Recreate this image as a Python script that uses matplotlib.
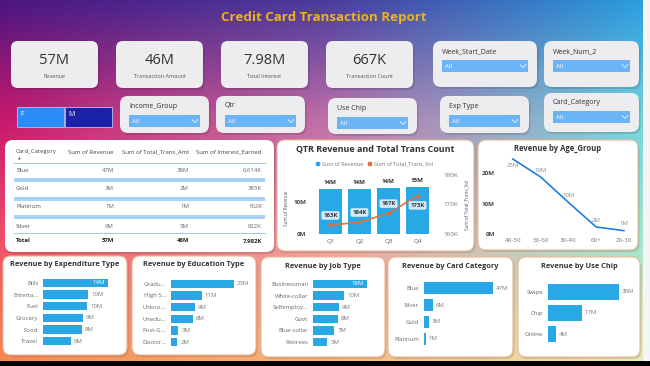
import numpy as np
import matplotlib.pyplot as plt
from matplotlib.patches import FancyBboxPatch, Rectangle

plt.rcParams['font.family'] = ['Open Sans', 'DejaVu Sans']

W, H = 650, 366
BLUE = '#29a8e6'
ORANGE = '#e0703c'

# ---- data ----
kpi_values = ['57M', '46M', '7.98M', '667K']
kpi_labels = ['Revenue', 'Transaction Amount', 'Total Interest', 'Transaction Count']

table_cats = ['Blue', 'Gold', 'Platinum', 'Silver']
table_rev = [46.6, 3.1, 1.1, 5.9]           # M
table_amt = [37.8, 2.4, 0.9, 5.2]           # M
table_int = [6613.6, 384.9, 161.8, 821.6]   # K

quarters = ['Q1', 'Q2', 'Q3', 'Q4']
qtr_revenue = [14.0, 14.1, 14.3, 14.6]      # M
qtr_trans_vol = [163, 164, 167, 173]        # K

age_groups = ['40-50', '50-60', '30-40', '60+', '20-30']
age_revenue = [24.6, 18.7, 10.4, 2.3, 1.1]

exp_labels = ['Bills', 'Enterta...', 'Fuel', 'Grocery', 'Food', 'Travel']
exp_revenue = [14.0, 9.7, 9.5, 8.6, 8.3, 6.0]

edu_labels = ['Gradu...', 'High S...', 'Unkno...', 'Unedu...', 'Post-G...', 'Doctor...']
edu_revenue = [23.0, 11.3, 8.7, 8.1, 2.7, 2.3]

job_labels = ['Businessman', 'White-collar', 'Selfemploy...', 'Govt', 'Blue-collar', 'Retirees']
job_revenue = [18.0, 10.4, 8.7, 8.3, 7.1, 4.7]

card_labels = ['Blue', 'Silver', 'Gold', 'Platinum']
card_revenue = [46.6, 5.9, 3.1, 1.1]

chip_labels = ['Swipe', 'Chip', 'Online']
chip_revenue = [35.8, 17.2, 4.0]

# ---- figure + gradient background ----
fig = plt.figure(figsize=(W / 100, H / 100), dpi=100)
bg = fig.add_axes([0, 0, 1, 1])

grid_y = [0, 120, 240, 366]
grid_x = [0, 325, 650]
grid_cols = [['#4a1680', '#4a3c9c', '#2aa0e0'],
             ['#c8186c', '#c070a8', '#70d8e0'],
             ['#f05068', '#f0a0a0', '#a0e8d0'],
             ['#f58c50', '#f8b878', '#f0ecb8']]
ctrl = np.array([[[int(c[i:i + 2], 16) / 255 for i in (1, 3, 5)] for c in row] for row in grid_cols])
ys = np.arange(H)
xs = np.arange(W)
tmp = np.stack([np.stack([np.interp(ys, grid_y, ctrl[:, j, k]) for k in range(3)], -1)
                for j in range(3)], 1)          # H x 3 x 3
grad = np.stack([np.stack([np.interp(xs, grid_x, tmp[r, :, k]) for k in range(3)], -1)
                 for r in range(H)], 0)
bg.imshow(grad, extent=(0, W, H, 0), aspect='auto', zorder=0)
bg.set_xlim(0, W)
bg.set_ylim(H, 0)
bg.axis('off')
bg.add_patch(Rectangle((0, 361), W, 5, fc='black', zorder=5))
bg.add_patch(Rectangle((643, 0), 7, 361, fc='#f4f6f6', zorder=5))


def card(l, t, r, b, fc='white', ec='none', rad=6, shadow=True):
    if shadow:
        bg.add_patch(FancyBboxPatch((l + 1.5, t + 2), r - l, b - t,
                                    boxstyle=f'round,pad=0,rounding_size={rad}',
                                    fc='black', ec='none', alpha=0.12, zorder=1))
    bg.add_patch(FancyBboxPatch((l, t), r - l, b - t,
                                boxstyle=f'round,pad=0,rounding_size={rad}',
                                fc=fc, ec=ec, lw=0.8, zorder=2))


def px_ax(l, t, r, b):
    ax = fig.add_axes([l / W, 1 - b / H, (r - l) / W, (b - t) / H])
    ax.patch.set_alpha(0)
    for s in ax.spines.values():
        s.set_visible(False)
    return ax


# title
bg.text(324, 18, 'Credit Card Transaction Report', ha='center', va='center',
        fontsize=9.6, fontweight='bold', color='#ecb416', zorder=3)

# KPI cards
kpi_x = [(11, 98), (116, 203), (221, 308), (326, 413)]
for (l, r), v, lab in zip(kpi_x, kpi_values, kpi_labels):
    card(l, 41, r, 88, fc='#ededf0', rad=7)
    bg.text((l + r) / 2, 61, v, ha='center', va='center', fontsize=10.5, color='#333333', zorder=3)
    bg.text((l + r) / 2, 76, lab, ha='center', va='center', fontsize=4, color='#555555', zorder=3)

# slicers
slicers = [('Week_Start_Date', 433, 41, 537, 87, 52, 60),
           ('Week_Num_2', 544, 41, 639, 87, 52, 60),
           ('Income_Group', 120, 96, 209, 133, 107, 115),
           ('Qtr', 216, 96, 305, 133, 106, 115),
           ('Use Chip', 328, 98, 417, 134, 109, 117),
           ('Exp Type', 440, 96, 529, 133, 107, 115),
           ('Card_Category', 544, 93, 639, 132, 103, 111)]
for name, l, t, r, b, ly, dy in slicers:
    card(l, t, r, b, fc='#ededf0', rad=8)
    bg.text(l + 9, ly, name, ha='left', va='center', fontsize=5, color='#333333', zorder=3)
    bg.add_patch(Rectangle((l + 9, dy), r - l - 18, 12, fc='#6cb4f8', ec='none', zorder=3))
    bg.text(l + 12, dy + 6.5, 'All', ha='left', va='center', fontsize=4.5, color='white', zorder=4)
    cx = r - 14
    bg.plot([cx - 3, cx, cx + 3], [dy + 4.5, dy + 7.5, dy + 4.5], color='#e8f4ff', lw=0.6, zorder=4)

# gender buttons
bg.add_patch(Rectangle((17, 107), 47, 20, fc='#2a8cf8', ec='#b0c0f0', lw=0.6, zorder=3))
bg.add_patch(Rectangle((65, 107), 47, 20, fc='#1c22a8', ec='#b0c0f0', lw=0.6, zorder=3))
bg.text(20, 115, 'F', ha='left', va='center', fontsize=5, color='white', zorder=4)
bg.text(68, 115, 'M', ha='left', va='center', fontsize=5, color='white', zorder=4)

# ---- table ----
card(5, 140, 274, 252, rad=8)
col_x = [114, 189, 262]
headers = ['Sum of Revenue', 'Sum of Total_Trans_Amt', 'Sum of Interest_Earned']
TFS = 4.3
bg.text(16, 152, 'Card_Category', ha='left', va='center', fontsize=TFS, color='#444444', zorder=3)
bg.text(19, 158.5, '▲', ha='center', va='center', fontsize=2.4, color='#444444', zorder=3)
for x, h in zip(col_x, headers):
    bg.text(x, 152, h, ha='right', va='center', fontsize=TFS, color='#444444', zorder=3)
bg.plot([14, 265], [163, 163], color='#9cc8f0', lw=0.7, zorder=3)
row_y = [170, 189, 207, 226]
for i, (cat, rv, am, it) in enumerate(zip(table_cats, table_rev, table_amt, table_int)):
    y = row_y[i]
    bg.text(16, y, cat, ha='left', va='center', fontsize=TFS, color='#555555', zorder=3)
    vals = [f'{rv:.0f}M', f'{am:.0f}M', f'{it:,.0f}K']
    for x, s in zip(col_x, vals):
        bg.text(x, y, s, ha='right', va='center', fontsize=TFS, color='#666666', zorder=3)
    if i < len(table_cats) - 1:
        bg.add_patch(Rectangle((14, y + 8), 251, 3.5, fc='#a8d2f8', ec='none', zorder=3))
bg.plot([14, 265], [233, 233], color='#9cc8f0', lw=0.7, zorder=3)
tot = [f'{sum(table_rev):.0f}M', f'{sum(table_amt):.0f}M', f'{sum(table_int):,.0f}K']
bg.text(16, 241, 'Total', ha='left', va='center', fontsize=TFS, fontweight='bold', color='#222222', zorder=3)
for x, s in zip(col_x, tot):
    bg.text(x, 241, s, ha='right', va='center', fontsize=TFS, fontweight='bold', color='#222222', zorder=3)

# ---- QTR combo chart ----
card(277, 140, 474, 251, ec='#e8b898', rad=8)
bg.text(375, 149, 'QTR Revenue and Total Trans Count', ha='center', va='center',
        fontsize=6.5, fontweight='bold', color='#333333', zorder=3)
bg.scatter([318, 370], [164, 164], s=6, c=[BLUE, ORANGE], zorder=3)
bg.text(322, 164, 'Sum of Revenue', ha='left', va='center', fontsize=4, color='#777777', zorder=3)
bg.text(374, 164, 'Sum of Total_Trans_Vol', ha='left', va='center', fontsize=4, color='#777777', zorder=3)
bg.text(286, 208, 'Sum of Revenue', rotation=90, ha='center', va='center', fontsize=3.3, color='#555555', zorder=3)
bg.text(467, 205, 'Sum of Total_Trans_Vol', rotation=90, ha='center', va='center', fontsize=3.3, color='#555555', zorder=3)

ax = px_ax(313, 175, 435, 234)
xq = np.arange(len(quarters))
ax.bar(xq, qtr_revenue, width=0.79, color=BLUE)
ax.set_xlim(-0.6, 3.6)
ax.set_ylim(0, 18.4)
ax.set_yticks([0, 10], ['0M', '10M'])
ax.set_xticks(xq, quarters)
ax.tick_params(length=0, labelsize=4.5, colors='#666666', pad=3.5)
ax.tick_params(axis='y', pad=5)
for lab in ax.get_yticklabels():
    lab.set_fontweight('bold')
    lab.set_color('#444444')
for x, v in zip(xq, qtr_revenue):
    ax.annotate(f'{v:.0f}M', (x, v), xytext=(0, 3), textcoords='offset points',
                ha='center', va='bottom', fontsize=4.5, fontweight='bold', color='#333333')
ax2 = ax.twinx()
ax2.patch.set_alpha(0)
for s in ax2.spines.values():
    s.set_visible(False)
ax2.plot(xq, qtr_trans_vol, color=ORANGE, lw=1.2, marker='o', ms=2)
ax2.set_ylim(160, 180)
ax2.set_yticks([160, 170, 180], ['160K', '170K', '180K'])
ax2.tick_params(length=0, labelsize=4.5, colors='#777777', pad=6)
label_side = [1, 1, 1, -1]
for x, v, sd in zip(xq, qtr_trans_vol, label_side):
    ax2.annotate(f'{v}K', (x, v), xytext=(0, 7 * sd), textcoords='offset points',
                 ha='center', va='center', fontsize=4.3, fontweight='bold', color='#333333',
                 bbox=dict(boxstyle='round,pad=0.3', fc='#d2e9f8', ec='none'))

# ---- age line chart ----
card(478, 140, 638, 250, ec='#e8b898', rad=8)
bg.text(558, 148, 'Revenue by Age_Group', ha='center', va='center',
        fontsize=5.5, fontweight='bold', color='#333333', zorder=3)
ax = px_ax(499, 156, 635, 234)
xa = np.arange(len(age_groups))
ax.plot(xa, age_revenue, color='#1e7fe0', lw=1.2)
ax.set_xlim(-0.5, 4.4)
ax.set_ylim(0, 25.6)
ax.set_xticks(xa, age_groups)
ax.set_yticks([0, 10, 20], ['0M', '10M', '20M'])
ax.tick_params(length=0, labelsize=4.5, colors='#777777', pad=3)
for lab in ax.get_yticklabels():
    lab.set_fontweight('bold')
    lab.set_color('#444444')
age_side = [-1, 1, 1, 1, 1]
for x, v, sd in zip(xa, age_revenue, age_side):
    ax.annotate(f'{v:.0f}M', (x, v), xytext=(0, 5 * sd), textcoords='offset points',
                ha='center', va='center', fontsize=4.3, color='#888888')


# ---- bottom bar charts ----
def hbar_card(l, t, r, b, title, ax_box, labels, vals, ppm, bar_h):
    card(l, t, r, b, ec='#e8b898', rad=8)
    bg.text((l + r) / 2, t + 9, title, ha='center', va='center',
            fontsize=5.3, fontweight='bold', color='#333333', zorder=3)
    al, at, ar, ab = ax_box
    ax = px_ax(al, at, ar, ab)
    xmax = (ar - al) / ppm
    y = np.arange(len(labels))
    ax.barh(y, vals, height=bar_h, color=BLUE)
    ax.set_xlim(0, xmax)
    ax.set_ylim(len(labels) - 0.5, -0.5)
    ax.set_xticks([])
    ax.set_yticks(y, labels)
    ax.tick_params(length=0, labelsize=4.3, colors='#666666', pad=3.5)
    for yi, v in zip(y, vals):
        if v + 16 / ppm > xmax:
            ax.text(v - 3 / ppm, yi, f'{v:.0f}M', ha='right', va='center', fontsize=4.3, color='white')
        else:
            ax.text(v + 3 / ppm, yi, f'{v:.0f}M', ha='left', va='center', fontsize=4.3, color='#777777')


hbar_card(3, 256, 127, 355, 'Revenue by Expenditure Type', (43, 277, 122, 347),
          exp_labels, exp_revenue, 4.64, 0.71)
hbar_card(132, 256, 256, 355, 'Revenue by Education Type', (171, 278, 251, 348),
          edu_labels, edu_revenue, 2.74, 0.71)
hbar_card(261, 257, 385, 357, 'Revenue by Job Type', (313, 278, 380, 348),
          job_labels, job_revenue, 3.0, 0.71)
hbar_card(388, 257, 513, 357, 'Revenue by Card Category', (424, 280, 512, 347),
          card_labels, card_revenue, 1.47, 0.72)
hbar_card(518, 257, 640, 357, 'Revenue by Use Chip', (548, 281, 635, 345),
          chip_labels, chip_revenue, 1.97, 0.76)

fig.savefig('out.png', dpi=100)
